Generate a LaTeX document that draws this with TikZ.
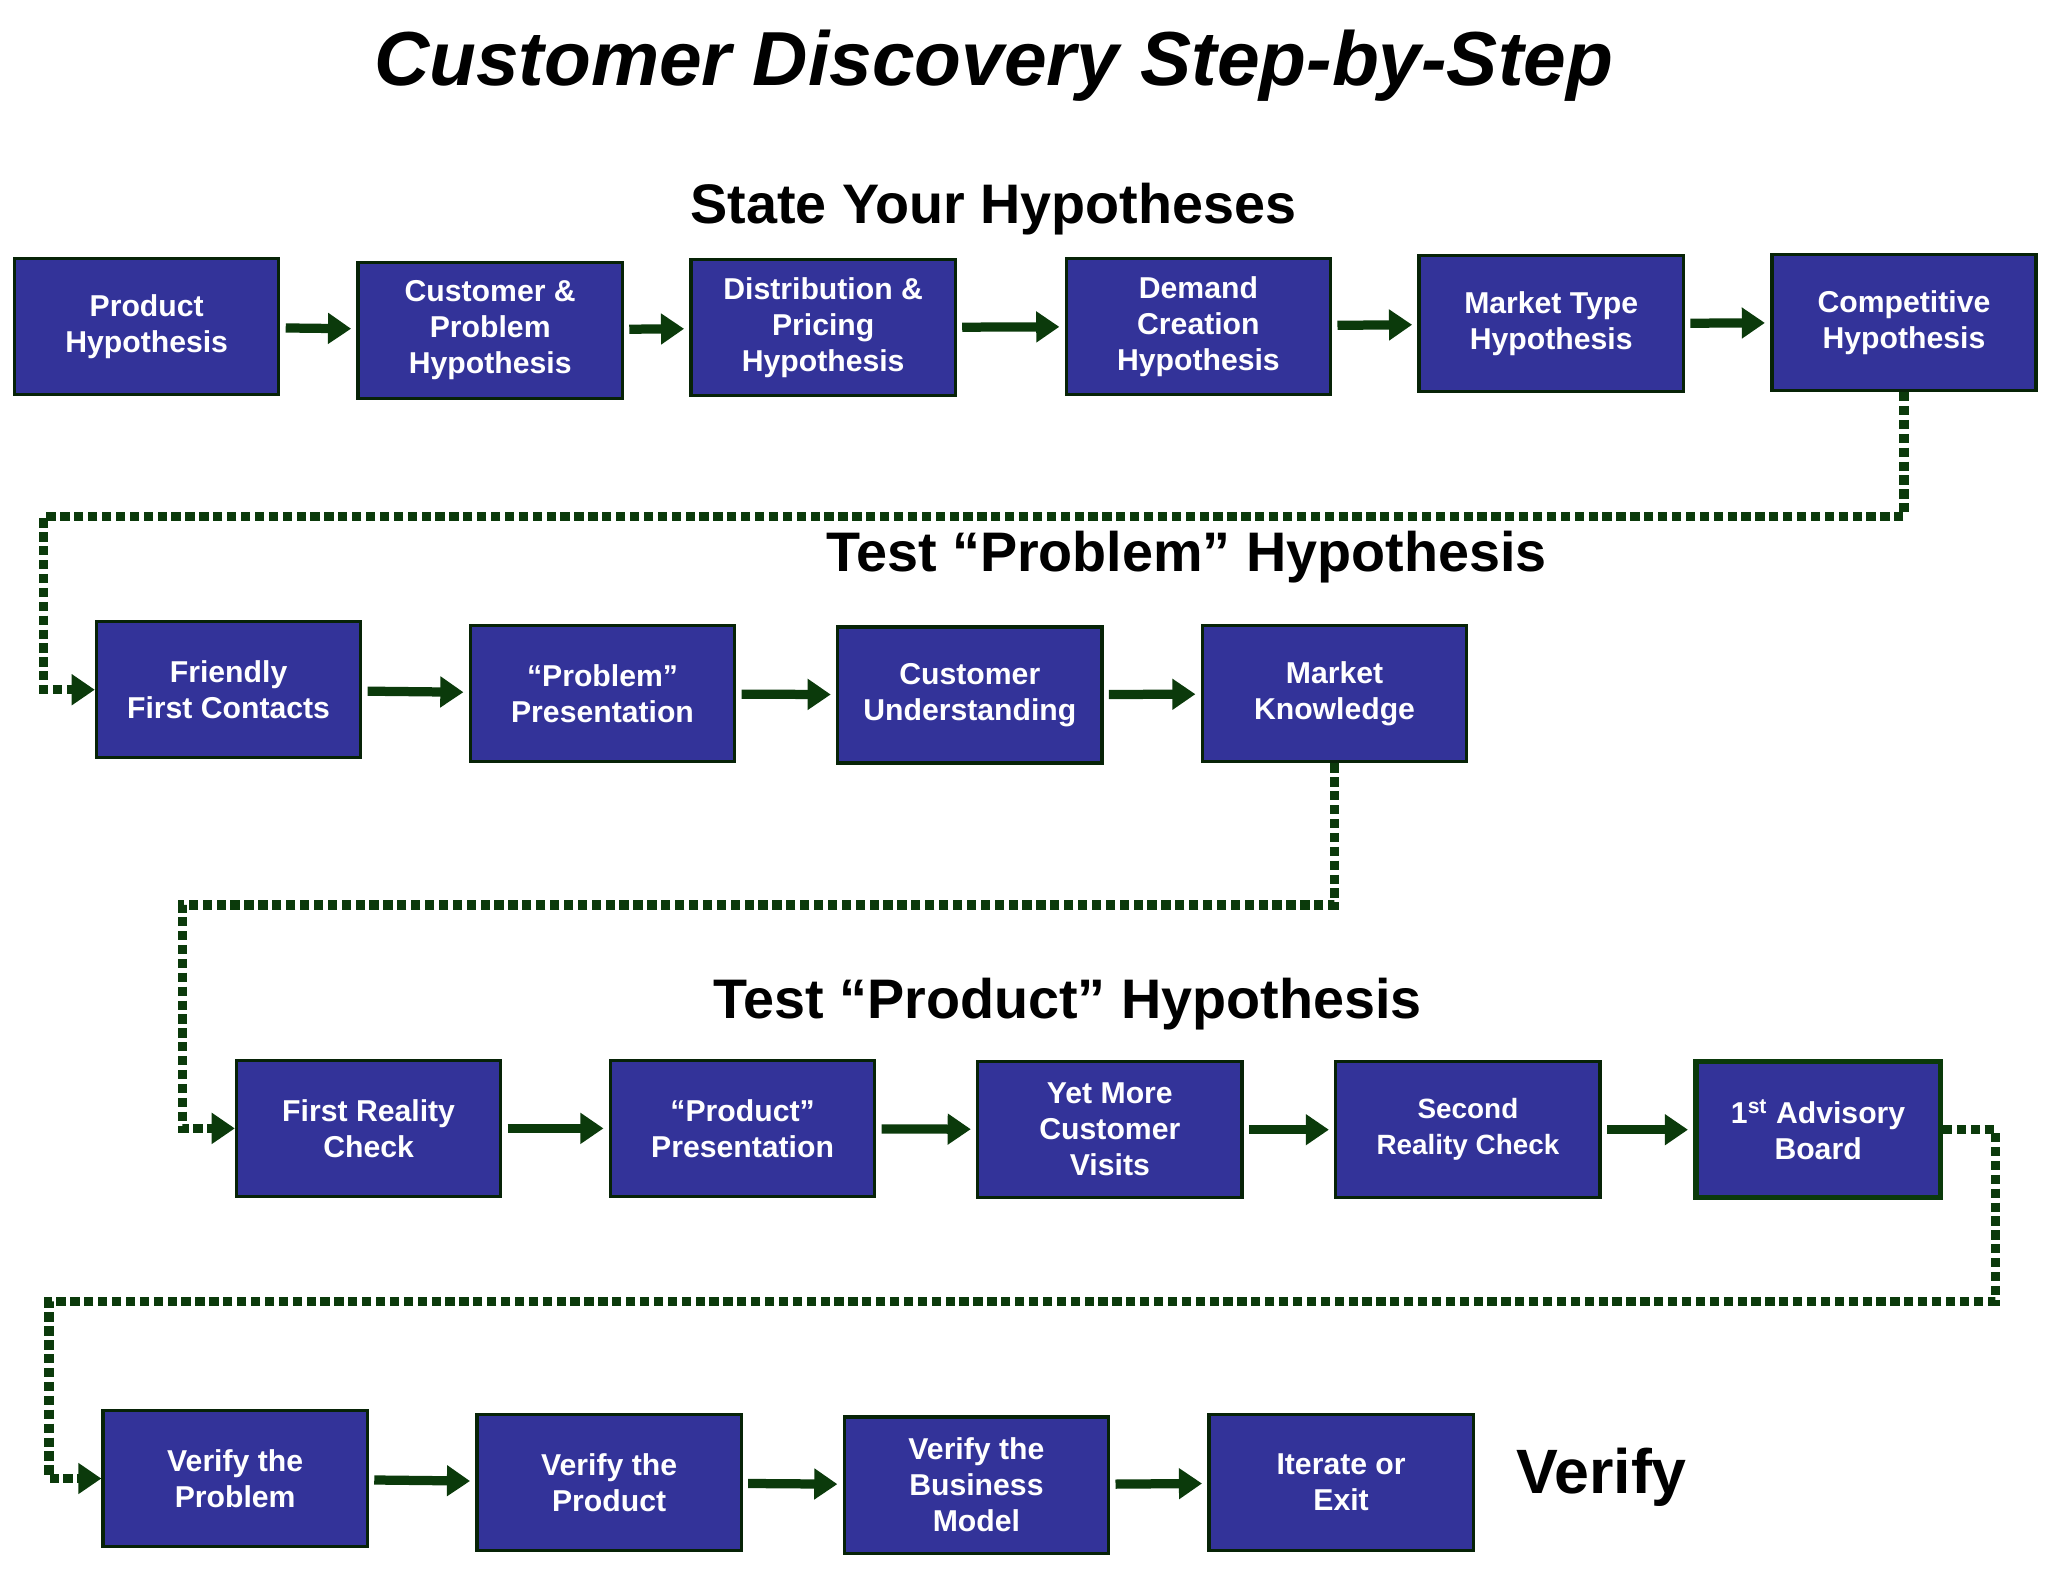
\documentclass[tikz,border=0pt]{standalone}
\usepackage{fontspec}
\setmainfont{Liberation Sans}
\usetikzlibrary{arrows.meta}
\definecolor{boxblue}{HTML}{333399}
\definecolor{arrgreen}{HTML}{0B3A0B}
\begin{document}
\begin{tikzpicture}[x=0.2mm,y=-0.2mm,
	stage/.style={draw=arrgreen!60!black,line width=0.5mm,fill=boxblue,text=white,
		minimum width=40mm,minimum height=20.6mm,align=center,
		font=\fontsize{13}{15.5}\selectfont\bfseries},
	flow/.style={draw=arrgreen,line width=1.4mm,-{Triangle[length=3.5mm,width=4.5mm]},shorten <=0.8mm,shorten >=0.8mm},
	jump/.style={draw=arrgreen,line width=1.4mm,dotted,-{Triangle[length=3.5mm,width=4.5mm]}},
	head/.style={font=\fontsize{24}{28}\selectfont\bfseries}]
	
	\useasboundingbox (0,0) rectangle (1550,1188);
	
	\node[font=\fontsize{33}{38}\selectfont\bfseries\itshape] (title) at (752,50) {Customer Discovery Step-by-Step};
	
	% State your hypotheses
	\node[head] (state) at (752,158) {State Your Hypotheses};
	\node[stage] (prod) at (111,247) {Product\\Hypothesis};
	\node[stage] (cust) at (371,250) {Customer \&\\Problem\\Hypothesis};
	\node[stage] (dist) at (623,248) {Distribution \&\\Pricing\\Hypothesis};
	\node[stage] (dem) at (907,247) {Demand\\Creation\\Hypothesis};
	\node[stage] (mkt) at (1174,245) {Market Type\\Hypothesis};
	\node[stage] (comp) at (1441,244) {Competitive\\Hypothesis};
	\draw[flow] (prod) -- (cust);
	\draw[flow] (cust) -- (dist);
	\draw[flow] (dist) -- (dem);
	\draw[flow] (dem) -- (mkt);
	\draw[flow] (mkt) -- (comp);
	
	% Test problem
	\node[head] (tprob) at (898,422) {Test “Problem” Hypothesis};
	\node[stage] (friend) at (173,522) {Friendly\\First Contacts};
	\node[stage] (pres) at (456,525) {“Problem”\\Presentation};
	\node[stage] (under) at (734,526) {Customer\\Understanding};
	\node[stage] (know) at (1010,525) {Market\\Knowledge};
	\draw[flow] (friend) -- (pres);
	\draw[flow] (pres) -- (under);
	\draw[flow] (under) -- (know);
	
	% Test product
	\node[head] (tprod) at (808,760) {Test “Product” Hypothesis};
	\node[stage] (real) at (279,854) {First Reality\\Check};
	\node[stage] (ppres) at (562,854) {“Product”\\Presentation};
	\node[stage] (visit) at (840,855) {Yet More\\Customer\\Visits};
	\node[stage,font=\fontsize{12}{15.5}\selectfont\bfseries] (second) at (1111,855) {Second\\Reality Check};
	\node[stage,minimum width=37mm,draw=arrgreen,line width=0.8mm] (board) at (1376,855) {1\textsuperscript{st} Advisory\\Board};
	\draw[flow] (real) -- (ppres);
	\draw[flow] (ppres) -- (visit);
	\draw[flow] (visit) -- (second);
	\draw[flow] (second) -- (board);
	
	% Verify
	\node[stage] (vprob) at (178,1119) {Verify the\\Problem};
	\node[stage] (vprod) at (461,1122) {Verify the\\Product};
	\node[stage] (vbm) at (739,1124) {Verify the\\Business\\Model};
	\node[stage] (iter) at (1015,1122) {Iterate or\\Exit};
	\node[head,font=\fontsize{27}{30}\selectfont\bfseries] (verify) at (1212,1118) {Verify};
	\draw[flow] (vprob) -- (vprod);
	\draw[flow] (vprod) -- (vbm);
	\draw[flow] (vbm) -- (iter);
	
	% dotted jumps between rows
	\draw[jump] (comp.south) |- (33,391) |- (friend.west);
	\draw[jump] (know.south) |- (138,685) |- (real.west);
	\draw[jump] (board.east) -| (1510,985) -| (37,1119) -- (vprob.west);
	
\end{tikzpicture}
\end{document}
